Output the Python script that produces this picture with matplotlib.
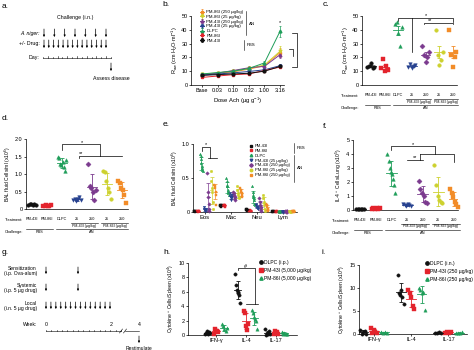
import numpy as np
import matplotlib.pyplot as plt

plt.rcParams['font.family'] = ['Liberation Sans', 'DejaVu Sans']
plt.rcParams['mathtext.fontset'] = 'custom'
plt.rcParams['mathtext.rm'] = 'Liberation Sans'
plt.rcParams['mathtext.it'] = 'Liberation Sans:italic'
plt.rcParams['axes.linewidth'] = 0.5
plt.rcParams['xtick.major.width'] = 0.5
plt.rcParams['ytick.major.width'] = 0.5
plt.rcParams['xtick.major.size'] = 1.5
plt.rcParams['ytick.major.size'] = 1.5
plt.rcParams['xtick.major.pad'] = 1
plt.rcParams['ytick.major.pad'] = 1

W, H = 474, 350

BLACK = '#111111'
RED = '#e3232c'
GREEN = '#1f9e5a'
NAVY = '#26418f'
PURPLE = '#7b3a8e'
YELLOW = '#cdd12e'
ORANGE = '#f28c28'

# ---- b: airway resistance vs. dose
dose_labels = ['Base', '0.03', '0.10', '0.32', '1.00', '3.16']
b_86_250 = [7.5, 8.5, 9.5, 11.5, 14.0, 23.5]
b_86_25 = [7.8, 8.8, 10.2, 12.0, 14.5, 24.5]
b_43_250 = [7.5, 8.6, 10.5, 12.5, 13.5, 22.0]
b_43_25 = [7.2, 8.0, 8.8, 9.8, 11.0, 14.0]
b_dlpc = [8.0, 9.0, 10.0, 12.0, 16.0, 39.0]
b_86_pbs = [5.5, 6.5, 7.5, 8.0, 10.5, 13.0]
b_43_pbs = [7.0, 7.5, 8.0, 8.5, 10.0, 13.5]
b_err_86_250 = [0.6, 0.7, 0.8, 1.0, 1.2, 3.0]
b_err_86_25 = [0.6, 0.7, 0.8, 1.0, 1.2, 3.5]
b_err_43_250 = [0.6, 0.7, 0.8, 1.0, 1.0, 2.5]
b_err_43_25 = [0.5, 0.5, 0.6, 0.6, 0.8, 1.0]
b_err_dlpc = [0.6, 0.7, 0.8, 1.0, 1.5, 4.0]
b_err_86_pbs = [0.5, 0.5, 0.6, 0.6, 0.8, 1.0]
b_err_43_pbs = [0.5, 0.5, 0.5, 0.6, 0.7, 1.0]

# ---- c, d, f: groups
treat_labels = ['PM-43I', 'PM-86I', 'DLPC', '25', '250', '25', '250']
c_43_pbs = [13.0, 14.0, 16.0, 12.5, 13.0]
c_86_pbs = [12.0, 18.5, 10.5, 14.0, 11.0]
c_dlpc = [44.0, 46.0, 38.0, 28.0, 42.0]
c_43_25 = [13.0, 15.0, 12.5, 14.0, 14.5]
c_43_250 = [28.0, 22.0, 16.5, 20.0, 24.0]
c_86_25 = [40.0, 22.0, 14.5, 18.0, 24.0]
c_86_250 = [39.5, 22.0, 13.0, 20.0, 24.0]

d_43_pbs = [0.12, 0.14, 0.13, 0.11, 0.15, 0.12]
d_86_pbs = [0.09, 0.10, 0.11, 0.08, 0.10, 0.12]
d_dlpc = [1.50, 1.45, 1.30, 1.25, 1.35, 1.20, 1.10, 1.40]
d_43_25 = [0.25, 0.30, 0.22, 0.28, 0.35, 0.26]
d_43_250 = [1.30, 0.65, 0.60, 0.50, 0.25, 0.55]
d_86_25 = [1.08, 1.05, 0.80, 0.60, 0.50, 0.30]
d_86_250 = [0.80, 0.75, 0.60, 0.55, 0.40, 0.18]

f_43_pbs = [0.05, 0.06, 0.04, 0.05, 0.07, 0.05]
f_86_pbs = [0.10, 0.12, 0.08, 0.11, 0.09, 0.13]
f_dlpc = [4.0, 3.5, 3.0, 2.7, 2.6, 2.2, 1.8, 1.2]
f_43_25 = [0.40, 0.35, 0.30, 0.45, 0.38, 0.32]
f_43_250 = [2.1, 1.5, 1.2, 1.0, 0.6, 0.5]
f_86_25 = [3.2, 1.8, 1.0, 0.7, 0.6, 0.5]
f_86_250 = [1.5, 1.2, 0.9, 0.6, 0.4, 0.2]

# ---- e: BAL differential (Eos, Mac, Neu, Lym)
cell_types = ['Eos', 'Mac', 'Neu', 'Lym']
e_43_pbs = [[0.01, 0.02, 0.01, 0.0, 0.01], [0.10, 0.09, 0.11, 0.08, 0.10],
            [0.05, 0.03, 0.04, 0.02, 0.03], [0.01, 0.0, 0.01, 0.0, 0.01]]
e_86_pbs = [[0.01, 0.0, 0.01, 0.02, 0.01], [0.09, 0.10, 0.11, 0.10, 0.08],
            [0.02, 0.01, 0.03, 0.02, 0.01], [0.0, 0.01, 0.0, 0.01, 0.0]]
e_dlpc = [[0.85, 0.82, 0.78, 0.72, 0.68, 0.65, 0.62, 0.60],
          [0.50, 0.45, 0.40, 0.38, 0.33, 0.30, 0.28, 0.25],
          [0.38, 0.30, 0.25, 0.22, 0.20, 0.18, 0.12, 0.10],
          [0.02, 0.01, 0.01, 0.0, 0.01, 0.02, 0.0, 0.01]]
e_43_25 = [[0.08, 0.05, 0.03, 0.02, 0.01, 0.04], [0.28, 0.24, 0.20, 0.18, 0.22, 0.25],
           [0.12, 0.10, 0.08, 0.06, 0.05, 0.07], [0.01, 0.0, 0.01, 0.0, 0.01, 0.0]]
e_43_250 = [[0.58, 0.30, 0.22, 0.12, 0.05, 0.02], [0.30, 0.28, 0.25, 0.20, 0.22, 0.18],
            [0.20, 0.15, 0.10, 0.08, 0.05, 0.02], [0.01, 0.0, 0.01, 0.02, 0.0, 0.01]]
e_86_25 = [[0.60, 0.45, 0.35, 0.30, 0.15, 0.05], [0.38, 0.33, 0.28, 0.25, 0.22, 0.20],
           [0.25, 0.20, 0.15, 0.10, 0.05, 0.02], [0.01, 0.02, 0.0, 0.01, 0.0, 0.01]]
e_86_250 = [[0.40, 0.38, 0.35, 0.30, 0.25, 0.10], [0.35, 0.32, 0.30, 0.28, 0.25, 0.22],
            [0.12, 0.10, 0.08, 0.05, 0.03, 0.02], [0.02, 0.01, 0.0, 0.01, 0.02, 0.0]]

# ---- h, i: cytokines
cytokines = ['IFN-γ', 'IL-4', 'IL-17']
h_dlpc = [[0.1, 0.3, 0.5, 0.2, 0.4, 0.3], [8.5, 7.0, 6.3, 5.8, 6.0, 5.5, 4.5],
          [0.8, 0.0, 0.3, 0.1, 0.5, 0.2]]
h_43 = [[0.2, 0.8, 0.5, 0.6, 0.4], [3.3, 3.0, 1.2, 0.7, 1.5], [0.1, 0.6, 0.3, 0.4, 0.2]]
h_86 = [[1.5, 1.2, 0.8, 0.5, 1.0], [3.5, 3.0, 2.5, 2.2, 2.0, 0.8], [0.4, 0.1, 0.3, 0.2, 0.2]]
i_dlpc = [[0.9, 0.1, 0.4, 0.6, 0.0], [12.8, 9.0, 8.5, 9.5, 8.0, 6.5], [0.3, 0.2, 0.4, 0.3]]
i_43 = [[1.2, 0.3, 0.8, 0.5, 0.2], [9.5, 9.0, 8.0, 6.0, 5.5], [0.2, 0.5, 0.3, 0.4]]
i_86 = [[0.5, 0.3, 0.4, 0.2], [10.0, 9.5, 9.0, 9.2, 5.3], [0.2, 0.3, 0.2, 0.4]]

fig = plt.figure(figsize=(W / 100, H / 100), dpi=100)
ov = fig.add_axes([0, 0, 1, 1])
ov.set_xlim(0, W)
ov.set_ylim(H, 0)
ov.axis('off')


def px_axes(l, t, r, b):
    ax = fig.add_axes([l / W, 1 - b / H, (r - l) / W, (b - t) / H])
    ax.patch.set_alpha(0)
    for s in ('top', 'right'):
        ax.spines[s].set_visible(False)
    ax.tick_params(labelsize=4)
    return ax


def dots(ax, x, vals, color, marker, err='sd', w=0.22, ms=2.6, half=0.3, lw=0.6):
    vals = np.asarray(vals, float)
    n = len(vals)
    offs = np.linspace(-w, w, n)
    ax.plot(x + offs, vals, ls='none', marker=marker, ms=ms, color=color,
            mec=color, mew=0.3, clip_on=False, zorder=3)
    m = vals.mean()
    e = vals.std(ddof=1)
    if err == 'sem':
        e = e / np.sqrt(n)
    ax.plot([x - half, x + half], [m, m], color=color, lw=lw, zorder=4)
    ax.errorbar(x, m, yerr=e, color=color, lw=lw, capsize=1.3, capthick=lw, zorder=4)


def treatment_rows(ax, pos, fs=2.8):
    ax.set_xticks(pos)
    ax.set_xticklabels(treat_labels, fontsize=fs)
    ax.tick_params(axis='x', length=0, pad=5.8)
    hp = ax.get_position().height * H
    wp = ax.get_position().width * W
    tr = ax.get_xaxis_transform()
    ax.text(-3 / wp, -11 / hp, 'Treatment:', transform=ax.transAxes, ha='right',
            va='center', fontsize=fs)
    ax.text(-3 / wp, -23 / hp, 'Challenge:', transform=ax.transAxes, ha='right',
            va='center', fontsize=fs)
    for i, j, name in [(3, 4, 'PM-43I (µg/kg)'), (5, 6, 'PM-86I (µg/kg)')]:
        ax.plot([pos[i] - 0.4, pos[j] + 0.4], [-14 / hp] * 2, transform=tr, color='k',
                lw=0.4, clip_on=False)
        ax.text((pos[i] + pos[j]) / 2, -14.5 / hp, name, transform=tr, ha='center',
                va='top', fontsize=fs - 0.2)
    for i, j, name in [(0, 1, 'PBS'), (2, 6, 'AN')]:
        ax.plot([pos[i] - 0.4, pos[j] + 0.4], [-20 / hp] * 2, transform=tr, color='k',
                lw=0.4, clip_on=False)
        ax.text((pos[i] + pos[j]) / 2, -21 / hp, name, transform=tr, ha='center',
                va='top', fontsize=fs)


def bracket(ax, x1, x2, y, d1, d2, label, tx=None, ty=None, fs=4):
    ax.plot([x1, x1, x2, x2], [d1, y, y, d2], color='k', lw=0.5, clip_on=False)
    ax.text((x1 + x2) / 2 if tx is None else tx, y if ty is None else ty, label,
            ha='center', va='bottom', fontsize=fs)


group_colors = [BLACK, RED, GREEN, NAVY, PURPLE, YELLOW, ORANGE]
group_markers = ['o', 's', '^', 'v', 'D', 'o', 's']


def arrow(x, y1, y2, lw=0.5):
    ov.annotate('', xy=(x, y2), xytext=(x, y1),
                arrowprops=dict(arrowstyle='-|>', lw=lw, color='k', mutation_scale=2.5,
                                shrinkA=0, shrinkB=0))


# ---------------- panel a (schematic)
ov.text(2, 3, 'a.', fontsize=6, va='top')
ov.text(75, 18, 'Challenge (i.n.)', fontsize=3.8, ha='center', va='center')
ov.text(40, 33, 'A. niger:', fontsize=3.8, ha='right', va='center', style='italic')
ov.text(40, 44, '+/- Drug:', fontsize=3.8, ha='right', va='center')
ov.text(40, 57, 'Day:', fontsize=3.8, ha='right', va='center')
for x in np.linspace(44, 106, 7):
    arrow(x, 29, 37)
for x in np.linspace(44, 106, 14):
    arrow(x, 40, 48)
ov.plot([43, 111], [58, 58], color='k', lw=0.4)
for k, x in enumerate(np.linspace(43, 111, 15)):
    ov.plot([x, x], [58, 56 if k % 2 else 57], color='k', lw=0.4)
arrow(111, 63, 71)
ov.text(111, 78, 'Assess disease', fontsize=3.8, ha='center', va='center')

# ---------------- panel g (schematic)
ov.text(2, 252, 'g.', fontsize=6, va='center')
ov.text(37, 271, 'Sensitization\n(i.p. Ova-alum)', fontsize=3.6, ha='right', va='center',
        linespacing=1.1)
ov.text(37, 288, 'Systemic\n(i.p. 5 µg drug)', fontsize=3.6, ha='right', va='center',
        linespacing=1.1)
ov.text(37, 306, 'Local\n(i.n. 5 µg drug)', fontsize=3.6, ha='right', va='center',
        linespacing=1.1)
ov.text(37, 325, 'Week:', fontsize=3.6, ha='right', va='center')
for x in (46, 78):
    arrow(x, 267, 274)
    arrow(x, 284, 291)
for x in np.linspace(46, 110, 14):
    arrow(x, 302, 309)
for x, lab in [(46, '0'), (111, '2'), (139, '4')]:
    ov.text(x, 325, lab, fontsize=3.8, ha='center', va='center')
ov.plot([46, 121], [331, 331], color='k', lw=0.4)
ov.plot([125, 139], [331, 331], color='k', lw=0.4)
for x in np.linspace(46, 121, 15):
    ov.plot([x, x], [331, 329.5], color='k', lw=0.4)
ov.plot([119.5, 122.5], [333, 329], color='k', lw=0.4)
ov.plot([123.5, 126.5], [333, 329], color='k', lw=0.4)
arrow(139, 336, 343)
ov.text(139, 349, 'Restimulate', fontsize=3.6, ha='center', va='center')

# ---------------- panel b
ov.text(162, 5, 'b.', fontsize=6, va='center')
axb = px_axes(191, 16, 284, 85)
xb = np.arange(len(dose_labels))
b_series = [
    (b_86_250, b_err_86_250, ORANGE, 's', 'PM-86I (250 µg/kg)'),
    (b_86_25, b_err_86_25, YELLOW, 'v', 'PM-86I (25 µg/kg)'),
    (b_43_250, b_err_43_250, PURPLE, '^', 'PM-43I (250 µg/kg)'),
    (b_43_25, b_err_43_25, NAVY, 'v', 'PM-43I (25 µg/kg)'),
    (b_dlpc, b_err_dlpc, GREEN, '^', 'DLPC'),
    (b_86_pbs, b_err_86_pbs, RED, 's', 'PM-86I'),
    (b_43_pbs, b_err_43_pbs, BLACK, 'o', 'PM-43I'),
]
for vals, errs, col, mk, lab in b_series:
    axb.errorbar(xb, vals, yerr=errs, color=col, marker=mk, ms=2.0, lw=0.7,
                 elinewidth=0.5, capsize=1, capthick=0.5, label=lab, clip_on=False)
axb.set_xlim(-0.7, 5.25)
axb.set_ylim(0, 50)
axb.set_yticks([0, 10, 20, 30, 40, 50])
axb.set_xticks(xb)
axb.set_xticklabels(dose_labels)
axb.set_xlabel('Dose Ach (µg g$^{-1}$)', fontsize=4.2, labelpad=1.5)
axb.set_ylabel('R$_{aw}$ (cm H$_2$O·ml$^{-1}$)', fontsize=4, labelpad=1)
axb.legend(loc='upper left', bbox_to_anchor=(200 / W, 1 - 10 / H),
           bbox_transform=fig.transFigure, fontsize=3.2, frameon=False,
           handlelength=1.0, handletextpad=0.4, labelspacing=0.15, borderpad=0,
           borderaxespad=0)
ov.plot([246, 246], [11, 35], color='k', lw=0.4)
ov.text(249, 24, 'AN', fontsize=3.2, va='center')
ov.plot([244, 244], [40, 50], color='k', lw=0.4)
ov.text(247, 45, 'PBS', fontsize=3.2, va='center')
axb.text(5, 45, '*', ha='center', va='center', fontsize=4)
axb.plot([5.75, 6.05, 6.05, 5.75], [38, 38, 13, 13], color='k', lw=0.5, clip_on=False)
axb.plot([5.6, 5.8, 5.8], [26, 26, 21], color='k', lw=0.5, clip_on=False)

# ---------------- panel c
ov.text(323, 4, 'c.', fontsize=6, va='center')
axc = px_axes(362, 16, 457, 85)
pos = np.arange(7)
c_groups = [c_43_pbs, c_86_pbs, c_dlpc, c_43_25, c_43_250, c_86_25, c_86_250]
for p, vals, col, mk in zip(pos, c_groups, group_colors, group_markers):
    dots(axc, p, vals, col, mk, err='sem', w=0.25, half=0.35)
axc.set_xlim(-0.65, 6.3)
axc.set_ylim(0, 50)
axc.set_yticks([0, 10, 20, 30, 40, 50])
axc.tick_params(labelsize=4)
axc.set_ylabel('R$_{aw}$ (cm H$_2$O·ml$^{-1}$)', fontsize=4, labelpad=1)
treatment_rows(axc, pos)
bracket(axc, 2, 6, 48.5, 46.5, 46, '*', tx=4, ty=48.3)
axc.plot([3, 3], [48.5, 24], color='k', lw=0.5)
bracket(axc, 3.9, 6, 45, 44, 44, '**', tx=4.3, ty=44.7)

# ---------------- panel d
ov.text(2, 118, 'd.', fontsize=6, va='center')
axd = px_axes(26, 139, 128, 209)
d_groups = [d_43_pbs, d_86_pbs, d_dlpc, d_43_25, d_43_250, d_86_25, d_86_250]
for p, vals, col, mk in zip(pos, d_groups, group_colors, group_markers):
    dots(axd, p, vals, col, mk, err='sd', w=0.25, half=0.35)
axd.set_xlim(-0.4, 6.4)
axd.set_ylim(0, 2.0)
axd.set_yticks([0, 0.5, 1.0, 1.5, 2.0])
axd.set_yticklabels(['0', '0.5', '1.0', '1.5', '2.0'])
axd.set_ylabel('BAL fluid Cells/ml (x10$^6$)', fontsize=3.6, labelpad=1)
treatment_rows(axd, pos)
bracket(axd, 2, 4.5, 1.85, 1.7, 1.52, '*', tx=3.3, ty=1.83)
bracket(axd, 3.1, 6, 1.52, 1.47, 1.52, '**', tx=3.3, ty=1.5)

# ---------------- panel e
ov.text(163, 125, 'e.', fontsize=6, va='center')
axe = px_axes(193, 144, 297, 212)
e_series = [
    (e_43_pbs, BLACK, 's', 'PM-43I'),
    (e_86_pbs, RED, 's', 'PM-86I'),
    (e_dlpc, GREEN, '^', 'DLPC'),
    (e_43_25, NAVY, 'v', 'PM-43I (25 µg/kg)'),
    (e_43_250, PURPLE, 'D', 'PM-43I (250 µg/kg)'),
    (e_86_25, YELLOW, 'o', 'PM-86I (25 µg/kg)'),
    (e_86_250, ORANGE, 's', 'PM-86I (250 µg/kg)'),
]
offs = np.linspace(-0.4, 0.4, len(e_series))
for k, (vals, col, mk, lab) in enumerate(e_series):
    for g, v in enumerate(vals):
        dots(axe, g + offs[k], v, col, mk, err='sd', w=0.04, ms=1.8, half=0.06, lw=0.5)
    axe.plot([], [], ls='none', marker=mk, ms=1.8, color=col, label=lab)
axe.set_xlim(-0.46, 3.54)
axe.set_ylim(0, 1.0)
axe.set_yticks([0, 0.5, 1.0])
axe.set_yticklabels(['0', '0.5', '1.0'])
axe.set_xticks(range(4))
axe.set_xticklabels(cell_types, fontsize=4.2)
axe.set_ylabel('BAL fluid Cells/ml (x10$^6$)', fontsize=3.6, labelpad=1)
axe.legend(loc='upper left', bbox_to_anchor=(250 / W, 1 - 144 / H),
           bbox_transform=fig.transFigure, fontsize=3, frameon=False,
           handlelength=0.6, handletextpad=0.5, labelspacing=0.2, borderpad=0,
           borderaxespad=0)
ov.plot([294, 294], [143, 153], color='k', lw=0.4)
ov.text(297, 148, 'PBS', fontsize=3.2, va='center')
ov.plot([294, 294], [155, 182], color='k', lw=0.4)
ov.text(297, 168, 'AN', fontsize=3.2, va='center')
bracket(axe, -0.1, 0.2, 0.96, 0.9, 0.8, '*', tx=0.05, ty=0.96)
axe.plot([0.1, 0.45], [0.8, 0.8], color='k', lw=0.5)

# ---------------- panel f
ov.text(323, 127, 'f.', fontsize=6, va='center')
axf = px_axes(353, 140, 458, 210)
f_groups = [f_43_pbs, f_86_pbs, f_dlpc, f_43_25, f_43_250, f_86_25, f_86_250]
for p, vals, col, mk in zip(pos, f_groups, group_colors, group_markers):
    dots(axf, p, vals, col, mk, err='sd', w=0.25, half=0.35)
axf.set_xlim(-0.45, 6.25)
axf.set_ylim(0, 5)
axf.set_yticks(range(6))
axf.set_ylabel('IL-4$^+$ Cells/Lung (x10$^5$)', fontsize=3.6, labelpad=2)
treatment_rows(axf, pos)
bracket(axf, 2, 4.8, 4.55, 4.25, 4.0, '*', tx=3.4, ty=4.5)
bracket(axf, 3.8, 6, 4.0, 4.0, 3.45, '')
bracket(axf, 3.0, 4.0, 3.55, 3.55, 3.55, '**', tx=3.5, ty=3.55)
axf.plot([3.8, 3.8], [3.55, 4.0], color='k', lw=0.5)

# ---------------- panel h
ov.text(163, 252, 'h.', fontsize=6, va='center')
axh = px_axes(188, 263, 297, 335)
cyto_offs = [-0.28, 0.0, 0.28]
h_series = [(h_dlpc, BLACK, 'o', 'DLPC (i.p.)'),
            (h_43, RED, 's', 'PM-43I (5,000 µg/kg)'),
            (h_86, GREEN, '^', 'PM-86I (5,000 µg/kg)')]
for k, (vals, col, mk, lab) in enumerate(h_series):
    for g, v in enumerate(vals):
        dots(axh, g + cyto_offs[k], v, col, mk, err='sd', w=0.08, ms=2.4, half=0.13)
    axh.plot([], [], ls='none', marker=mk, ms=2.4, color=col, label=lab)
axh.set_xlim(-0.93, 2.7)
axh.set_ylim(0, 10)
axh.set_yticks(range(0, 11, 2))
axh.set_xticks(range(3))
axh.set_xticklabels(cytokines, fontsize=4)
axh.set_ylabel('Cytokine$^+$ Cells/Spleen (x10$^4$)', fontsize=3.6, labelpad=1.5)
axh.legend(loc='upper left', bbox_to_anchor=(259 / W, 1 - 260 / H),
           bbox_transform=fig.transFigure, fontsize=3.6, frameon=False,
           handlelength=0.6, handletextpad=0.5, labelspacing=0.6, borderpad=0,
           borderaxespad=0)
bracket(axh, 0.72, 1.3, 9.3, 9.0, 4.3, '#', tx=1.0, ty=9.2)
axh.plot([1.0, 1.4], [4.3, 4.3], color='k', lw=0.5)

# ---------------- panel i
ov.text(322, 252, 'i.', fontsize=6, va='center')
axi = px_axes(359, 265, 467, 334)
i_series = [(i_dlpc, BLACK, 'o', 'DLPC (i.n.)'),
            (i_43, RED, 's', 'PM-43I (250 µg/kg)'),
            (i_86, GREEN, '^', 'PM-86I (250 µg/kg)')]
for k, (vals, col, mk, lab) in enumerate(i_series):
    for g, v in enumerate(vals):
        dots(axi, g + cyto_offs[k], v, col, mk, err='sd', w=0.08, ms=2.4, half=0.13)
    axi.plot([], [], ls='none', marker=mk, ms=2.4, color=col, label=lab)
axi.set_xlim(-0.4, 2.5)
axi.set_ylim(0, 15)
axi.set_yticks([0, 5, 10, 15])
axi.set_xticks(range(3))
axi.set_xticklabels(cytokines, fontsize=4)
axi.set_ylabel('Cytokine$^+$ Cells/Spleen (x10$^4$)', fontsize=3.6, labelpad=1.5)
axi.legend(loc='upper left', bbox_to_anchor=(425 / W, 1 - 261 / H),
           bbox_transform=fig.transFigure, fontsize=3.6, frameon=False,
           handlelength=0.6, handletextpad=0.5, labelspacing=0.6, borderpad=0,
           borderaxespad=0)

fig.savefig('out.png', dpi=100)
